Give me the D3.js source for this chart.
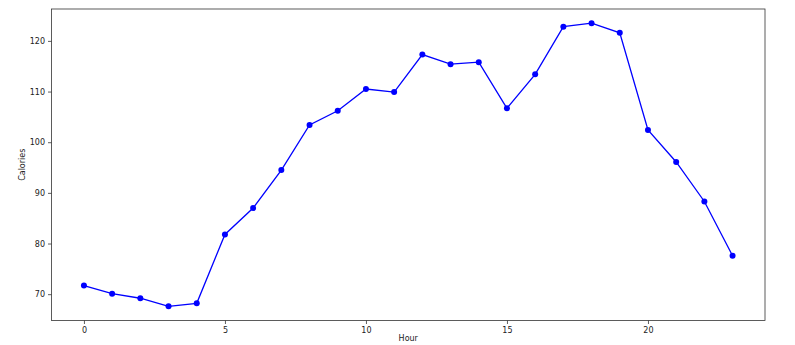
<!DOCTYPE html>
<html>
<head>
<meta charset="utf-8">
<script src="https://cdn.jsdelivr.net/npm/d3@7"></script>
<style>
  body { margin: 0; background: #fff; }
  svg text { font-family: "DejaVu Sans", sans-serif; fill: #222; }
</style>
</head>
<body>
<div id="chart"></div>
<script>
// hourly calories
const hours = d3.range(0, 24);
const calories = [71.7, 70.1, 69.2, 67.6, 68.2, 81.8, 87.0, 94.5, 103.4, 106.2, 110.5, 109.9,
                  117.3, 115.4, 115.8, 106.7, 113.4, 122.8, 123.5, 121.6, 102.4, 96.1, 88.3, 77.6];
const xTicks = [0, 5, 10, 15, 20];
const yTicks = [70, 80, 90, 100, 110, 120];

const width = 795, height = 345;
const margin = {top: 9, right: 30, bottom: 24.5, left: 51.5};

const svg = d3.select('#chart').append('svg')
    .attr('width', width)
    .attr('height', height);

// matplotlib-like 5% margins around the data
let xPad = (d3.max(hours) - d3.min(hours)) * 0.05;
let yMin = d3.min(calories), yMax = d3.max(calories);
let yPad = (yMax - yMin) * 0.05;

const x = d3.scaleLinear()
    .domain([d3.min(hours) - xPad, d3.max(hours) + xPad])
    .range([margin.left, width - margin.right]);

const y = d3.scaleLinear()
    .domain([yMin - yPad, yMax + yPad])
    .range([height - margin.bottom, margin.top]);

const xAxis = svg.append('g')
    .attr('transform', 'translate(0,' + (height - margin.bottom) + ')')
    .call(d3.axisBottom(x).tickValues(xTicks).tickSize(3.5).tickPadding(3).tickFormat(d3.format('d')));

const yAxis = svg.append('g')
    .attr('transform', 'translate(' + margin.left + ',0)')
    .call(d3.axisLeft(y).tickValues(yTicks).tickSize(3.5).tickPadding(3).tickFormat(d3.format('d')));

[xAxis, yAxis].forEach(g => {
  g.select('.domain').remove();
  g.selectAll('.tick line').attr('stroke', '#333').attr('stroke-width', 0.8);
  g.selectAll('.tick text').attr('font-size', 8).style('fill', '#222');
});

// frame
svg.append('rect')
    .attr('x', margin.left)
    .attr('y', margin.top)
    .attr('width', width - margin.right - margin.left)
    .attr('height', height - margin.bottom - margin.top)
    .attr('fill', 'none')
    .attr('stroke', '#333')
    .attr('stroke-width', 0.8);

const line = d3.line()
    .x((d, i) => x(hours[i]))
    .y(d => y(d));

svg.append('path')
    .datum(calories)
    .attr('fill', 'none')
    .attr('stroke', '#0000ff')
    .attr('stroke-width', 1.3)
    .attr('d', line);

svg.append('g')
  .selectAll('circle')
    .data(calories)
  .enter().append('circle')
    .attr('cx', (d, i) => x(hours[i]))
    .attr('cy', d => y(d))
    .attr('r', 3)
    .attr('fill', '#0000ff');

// axis labels
svg.append('text')
    .attr('x', x(11.5))
    .attr('y', 341)
    .attr('text-anchor', 'middle')
    .attr('font-size', 8)
    .text('Hour');

svg.append('text')
    .attr('transform', 'translate(25,' + ((margin.top + height - margin.bottom) / 2) + ') rotate(-90)')
    .attr('text-anchor', 'middle')
    .attr('font-size', 8)
    .text('Calories');
</script>
</body>
</html>
